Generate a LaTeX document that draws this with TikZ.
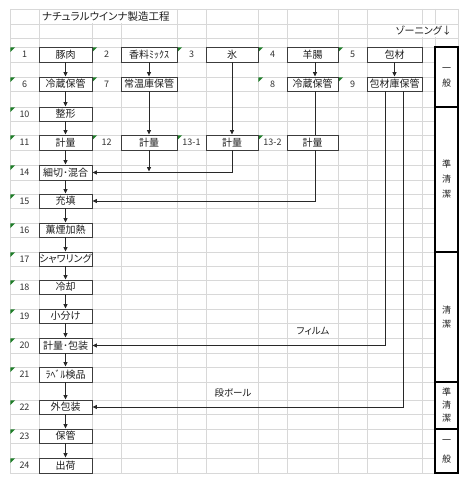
\documentclass[tikz,border=0pt]{standalone}
\usepackage{fontspec}
\setmainfont{Noto Sans CJK JP}[RawFeature=+palt]
\usetikzlibrary{arrows.meta}
\definecolor{gridc}{RGB}{216,216,216}
\definecolor{boxc}{RGB}{60,60,60}
\definecolor{linec}{RGB}{40,40,40}
\definecolor{txt}{RGB}{30,30,30}
\definecolor{numc}{RGB}{50,50,50}
\definecolor{trig}{RGB}{30,125,40}
\begin{document}
\begin{tikzpicture}[x=1pt,y=-1pt,
  grid/.style={draw=gridc, line width=0.6pt},
  box/.style={draw=boxc, line width=0.9pt, fill=white, inner sep=0pt, font=\fontsize{10}{12}\selectfont, text=txt},
  cB/.style={minimum width=53pt},
  cD/.style={minimum width=56pt},
  cF/.style={minimum width=52pt},
  cH/.style={minimum width=51pt},
  cJ/.style={minimum width=55pt},
  hA/.style={minimum height=15pt},
  hB/.style={minimum height=14pt},
  num/.style={font=\fontsize{9}{11}\selectfont, text=numc, inner sep=0pt},
  arr/.style={draw=linec, line width=0.8pt, -{Triangle[length=4.5pt,width=4pt]}},
  ln/.style={draw=linec, line width=0.8pt},
  zone/.style={draw=black, line width=1.5pt, fill=white, inner sep=0pt, align=center, minimum width=23pt, text=txt},
  lbl/.style={font=\fontsize{9.5}{11}\selectfont, inner sep=0pt, text=txt}
]
\useasboundingbox (0,0) rectangle (474,484);
\fill[white] (0,0) rectangle (474,484);

% spreadsheet grid
\foreach \x in {10,39,92,121,177,206,258,287,338,367,422,435,458}
  \draw[grid] (\x,9) -- (\x,473);
\foreach \y in {9,24,38,47,62,77,91,107,121,135,150,165,180,194,208,223,237,252,266,280,294,309,323,338,353,367,382,400,414,429,443,458,473}
  \draw[grid] (10,\y) -- (458,\y);
\fill[white] (40,9.6) rectangle (176.5,23.4);
\fill[white] (367.6,24.6) rectangle (457.5,37.4);

% title texts
\node[lbl, font=\fontsize{10.5}{12}\selectfont, anchor=west] (title) at (42,16.5) {ナチュラルウインナ製造工程};
\node[lbl, font=\fontsize{10}{12}\selectfont, anchor=east] (zoning) at (452,31) {ゾーニング↓};

% green indicator triangles
\foreach \x/\y in {10/47,92/47,177/47,258/47,338/47,10/77,92/77,258/77,338/77,10/107,10/135,92/135,177/135,258/135,10/165,10/194,10/223,10/252,10/280,10/309,10/338,10/367,10/400,10/429,10/458}
  \fill[trig] (\x+0.4,\y+0.4) -- ++(4.6,0) -- ++(-4.6,4.6) -- cycle;

% step numbers
\node[num] (n1) at (24.5,54.5) {1};
\node[num] (n2) at (106.5,54.5) {2};
\node[num] (n3) at (191.5,54.5) {3};
\node[num] (n4) at (272.5,54.5) {4};
\node[num] (n5) at (352.5,54.5) {5};
\node[num] (n6) at (24.5,84) {6};
\node[num] (n7) at (106.5,84) {7};
\node[num] (n8) at (272.5,84) {8};
\node[num] (n9) at (352.5,84) {9};
\node[num] (n10) at (24.5,114) {10};
\node[num] (n11) at (24.5,142.5) {11};
\node[num] (n12) at (106.5,142.5) {12};
\node[num] (n13a) at (191.5,142.5) {13-1};
\node[num] (n13b) at (272.5,142.5) {13-2};
\node[num] (n14) at (24.5,172.5) {14};
\node[num] (n15) at (24.5,201) {15};
\node[num] (n16) at (24.5,230) {16};
\node[num] (n17) at (24.5,259) {17};
\node[num] (n18) at (24.5,287) {18};
\node[num] (n19) at (24.5,316) {19};
\node[num] (n20) at (24.5,345.5) {20};
\node[num] (n21) at (24.5,374.5) {21};
\node[num] (n22) at (24.5,407) {22};
\node[num] (n23) at (24.5,436) {23};
\node[num] (n24) at (24.5,465.5) {24};

% process boxes
\node[box,cB,hA] (p1) at (65.5,54.5) {豚肉};
\node[box,cD,hA] (p2) at (149,54.5) {香料ﾐｯｸｽ};
\node[box,cF,hA] (p3) at (232,54.5) {氷};
\node[box,cH,hA] (p4) at (312.5,54.5) {羊腸};
\node[box,cJ,hA] (p5) at (394.5,54.5) {包材};
\node[box,cB,hB] (p6) at (65.5,84) {冷蔵保管};
\node[box,cD,hB] (p7) at (149,84) {常温庫保管};
\node[box,cH,hB] (p8) at (312.5,84) {冷蔵保管};
\node[box,cJ,hB] (p9) at (394.5,84) {包材庫保管};
\node[box,cB,hB] (p10) at (65.5,114) {整形};
\node[box,cB,hA] (p11) at (65.5,142.5) {計量};
\node[box,cD,hA] (p12) at (149,142.5) {計量};
\node[box,cF,hA] (p13a) at (232,142.5) {計量};
\node[box,cH,hA] (p13b) at (312.5,142.5) {計量};
\node[box,cB,hA] (p14) at (65.5,172.5) {細切･混合};
\node[box,cB,hB] (p15) at (65.5,201) {充填};
\node[box,cB,hB] (p16) at (65.5,230) {薫煙加熱};
\node[box,cB,hB] (p17) at (65.5,259) {シャワリング};
\node[box,cB,hB] (p18) at (65.5,287) {冷却};
\node[box,cB,hB] (p19) at (65.5,316) {小分け};
\node[box,cB,hA] (p20) at (65.5,345.5) {計量･包装};
\node[box,cB,hA] (p21) at (65.5,374.5) {ﾗﾍﾞﾙ検品};
\node[box,cB,hB] (p22) at (65.5,407) {外包装};
\node[box,cB,hB] (p23) at (65.5,436) {保管};
\node[box,cB,hA] (p24) at (65.5,465.5) {出荷};

% zoning boxes
\node[zone, minimum height=60pt, font=\fontsize{9}{15}\selectfont] (z1) at (446.5,77) {一\\般};
\node[zone, minimum height=145pt, font=\fontsize{9}{15}\selectfont] (z2) at (446.5,179.5) {準\\清\\潔};
\node[zone, minimum height=130pt, font=\fontsize{9}{14}\selectfont] (z3) at (446.5,317) {清\\潔};
\node[zone, minimum height=47pt, font=\fontsize{9}{13}\selectfont] (z4) at (446.5,405.5) {準\\清\\潔};
\node[zone, minimum height=44pt, font=\fontsize{9}{19}\selectfont] (z5) at (446.5,451) {一\\般};

% main chain
\foreach \a/\b in {p1/p6,p6/p10,p10/p11,p11/p14,p14/p15,p15/p16,p16/p17,p17/p18,p18/p19,p19/p20,p20/p21,p21/p22,p22/p23,p23/p24}
  \draw[arr] (\a.south) -- (\b.north);

% side flows
\draw[arr] (p2.south) -- (p7.north);
\draw[arr] (p7.south) -- (p12.north);
\draw[arr] (p3.south) -- (p13a.north);
\draw[arr] ([xshift=2.5pt]p4.south) -- ([xshift=2.5pt]p8.north);
\draw[arr] (p5.south) -- (p9.north);
\draw[ln] ([xshift=2.5pt]p8.south) -- ([xshift=2.5pt]p13b.north);
\draw[arr] (p13a.south) |- (p14.east);
\draw[arr, shorten >=1pt] (p12.south) -- (p12.south |- p14.east);
\draw[arr] ([xshift=2.5pt]p13b.south) |- (p15.east);
\draw[arr] ([xshift=-9.5pt]p9.south) |- (p20.east);
\draw[arr] ([xshift=8.5pt]p9.south) |- (p22.east);

% connector labels
\node[lbl] (film) at (313,331) {フィルム};
\node[lbl] (danbo) at (233,393) {段ボール};
\end{tikzpicture}
\end{document}
